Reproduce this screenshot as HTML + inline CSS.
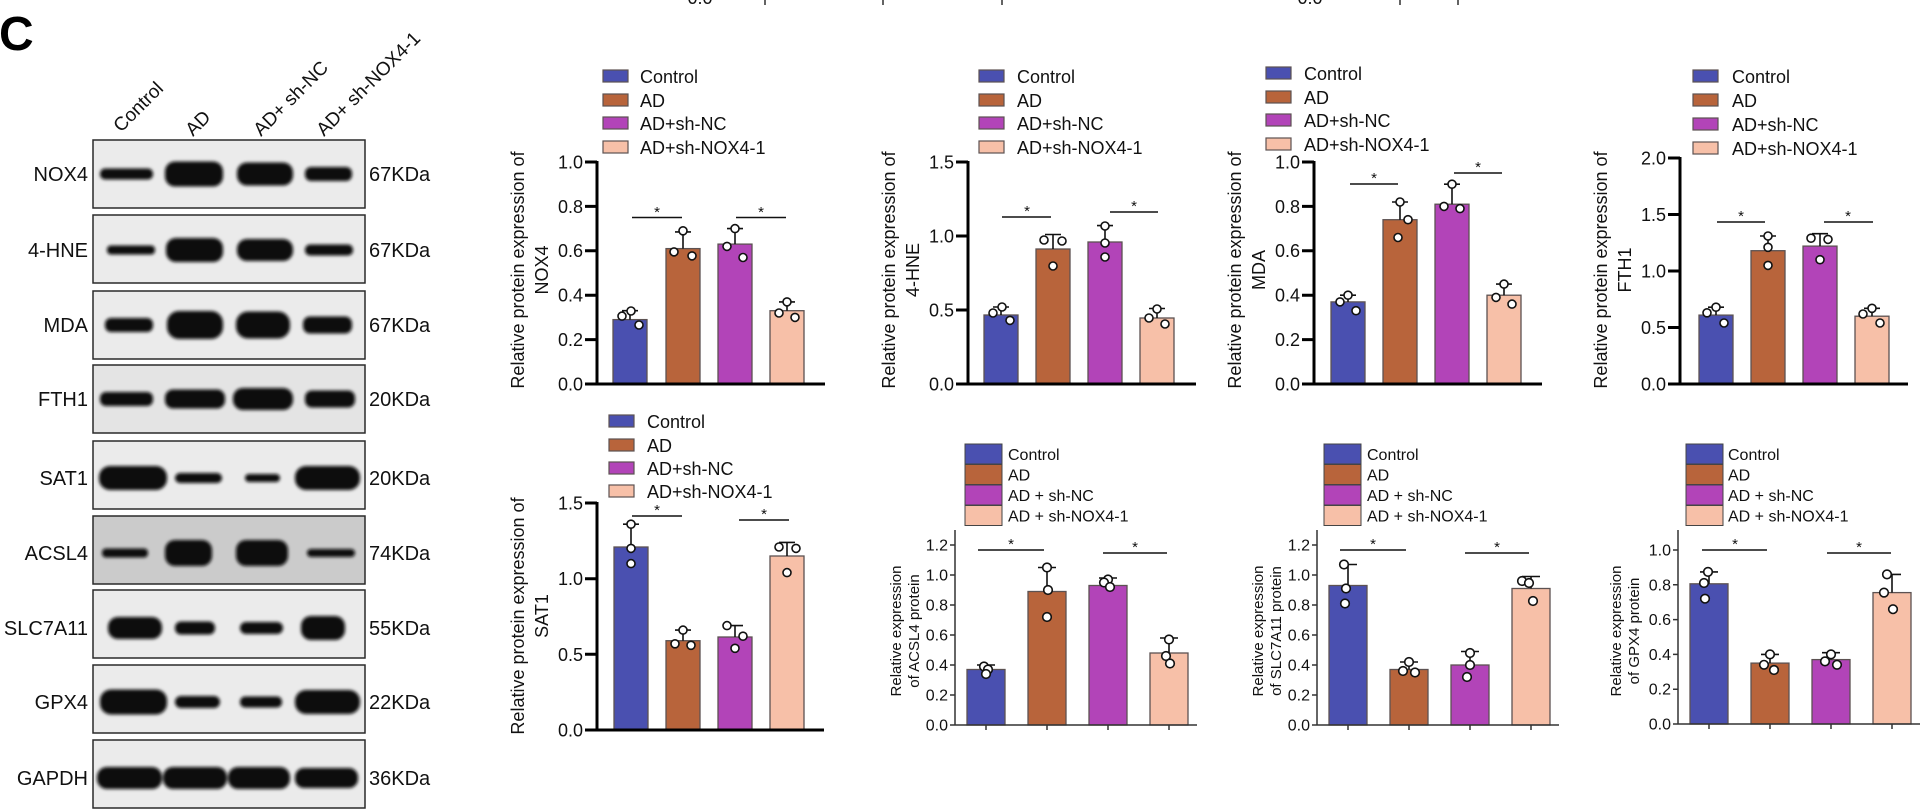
<!DOCTYPE html>
<html><head><meta charset="utf-8">
<style>
html,body{margin:0;padding:0;background:#fff;width:1923px;height:810px;overflow:hidden}
svg{display:block}
</style></head>
<body>
<svg xmlns="http://www.w3.org/2000/svg" width="1923" height="810" viewBox="0 0 1923 810" font-family="'Liberation Sans', Arial, sans-serif">
<defs>
<filter id="bl" x="-20%" y="-60%" width="140%" height="220%"><feGaussianBlur stdDeviation="1.6"/></filter>
</defs>
<style>
.c0{fill:#4a50b0}.c1{fill:#b8643b}.c2{fill:#b244b8}.c3{fill:#f7c0a8}
.bar{stroke:#5c5252;stroke-width:1.3}
.sw{stroke:#5c5252;stroke-width:1.2}
.ax{stroke:#000;stroke-width:3;fill:none}
.ax2{stroke:#333;stroke-width:1.5;fill:none}
.eb{stroke:#111;stroke-width:1.6;fill:none}
.dt{fill:#fff;stroke:#111;stroke-width:1.6}
.t18{font-size:18px;fill:#111}
.t16{font-size:16px;fill:#111}
.t15{font-size:15px;fill:#111}
.st{font-size:15px;fill:#111;text-anchor:middle}
.box{fill:#ebebeb;stroke:#2a2a2a;stroke-width:1.5}
.bd{fill:#0a0a0a}
.bl{font-size:20px;fill:#111}
</style>

<!-- top cut-off strip -->
<text x="700" y="4" class="t18" text-anchor="middle">0.0</text>
<text x="1310" y="4" class="t18" text-anchor="middle">0.0</text>
<path d="M765,0V5M883,0V5M1002,0V5M1400,0V5M1458,0V5" stroke="#111" stroke-width="1.3"/>

<!-- Panel letter -->
<text x="-1" y="50" font-size="48" font-weight="bold" fill="#000">C</text>

<!-- Column labels -->
<g font-size="19" fill="#111">
<text transform="translate(121,133) rotate(-45)">Control</text>
<text transform="translate(193,137) rotate(-45)">AD</text>
<text transform="translate(261,137) rotate(-45)">AD+ sh-NC</text>
<text transform="translate(324,137) rotate(-45)">AD+ sh-NOX4-1</text>
</g>

<!-- Blot boxes -->
<rect class="box" x="93" y="140" width="272" height="68"/>
<rect class="box" x="93" y="215" width="272" height="68"/>
<rect class="box" x="93" y="291" width="272" height="68"/>
<rect class="box" x="93" y="365" width="272" height="68" style="fill:#e4e4e4"/>
<rect class="box" x="93" y="441" width="272" height="68"/>
<rect class="box" x="93" y="516" width="272" height="68" style="fill:#cbcbcb"/>
<rect class="box" x="93" y="590" width="272" height="68"/>
<rect class="box" x="93" y="665" width="272" height="68"/>
<rect class="box" x="93" y="740" width="272" height="68"/>

<g filter="url(#bl)" class="bd">
<rect x="100" y="168.5" width="53" height="11" rx="5"/>
<rect x="165" y="161.5" width="58" height="25" rx="10"/>
<rect x="237" y="162.5" width="56" height="23" rx="10"/>
<rect x="305" y="167" width="47" height="14" rx="6"/>
<rect x="107" y="245.5" width="48" height="9" rx="4"/>
<rect x="166" y="238" width="57" height="24" rx="10"/>
<rect x="237" y="239" width="56" height="22" rx="10"/>
<rect x="305" y="244.5" width="48" height="11" rx="5"/>
<rect x="105" y="318" width="48" height="14" rx="6"/>
<rect x="167" y="311" width="56" height="28" rx="12"/>
<rect x="236" y="311.5" width="54" height="27" rx="12"/>
<rect x="303" y="316.5" width="49" height="17" rx="7"/>
<rect x="100" y="392" width="53" height="14" rx="6"/>
<rect x="165" y="389.5" width="60" height="19" rx="8"/>
<rect x="233" y="388" width="60" height="22" rx="10"/>
<rect x="305" y="390.5" width="50" height="17" rx="7"/>
<rect x="99" y="466" width="68" height="24" rx="11"/>
<rect x="175" y="473" width="47" height="10" rx="5"/>
<rect x="245" y="474" width="35" height="8" rx="4"/>
<rect x="295" y="466" width="65" height="24" rx="11"/>
<rect x="102" y="548.5" width="46" height="9" rx="4"/>
<rect x="165" y="540" width="47" height="26" rx="10"/>
<rect x="236" y="540" width="52" height="26" rx="10"/>
<rect x="307" y="549" width="48" height="8" rx="4"/>
<rect x="108" y="617" width="54" height="22" rx="10"/>
<rect x="175" y="621.5" width="40" height="13" rx="6"/>
<rect x="240" y="622" width="43" height="12" rx="6"/>
<rect x="301" y="616" width="44" height="24" rx="10"/>
<rect x="100" y="689.5" width="67" height="25" rx="11"/>
<rect x="175" y="696" width="45" height="12" rx="6"/>
<rect x="240" y="696.5" width="42" height="11" rx="5"/>
<rect x="295" y="690" width="65" height="24" rx="11"/>
<rect x="97" y="767" width="65" height="22" rx="10"/>
<rect x="163" y="767" width="64" height="22" rx="10"/>
<rect x="228" y="767" width="62" height="22" rx="10"/>
<rect x="295" y="768" width="63" height="20" rx="9"/>
</g>

<g class="bl" text-anchor="end">
<text x="88" y="181">NOX4</text>
<text x="88" y="257">4-HNE</text>
<text x="88" y="332">MDA</text>
<text x="88" y="406">FTH1</text>
<text x="88" y="485">SAT1</text>
<text x="88" y="560">ACSL4</text>
<text x="88" y="635">SLC7A11</text>
<text x="88" y="709">GPX4</text>
<text x="88" y="785">GAPDH</text>
</g>
<g class="bl">
<text x="369" y="181">67KDa</text>
<text x="369" y="257">67KDa</text>
<text x="369" y="332">67KDa</text>
<text x="369" y="406">20KDa</text>
<text x="369" y="485">20KDa</text>
<text x="369" y="560">74KDa</text>
<text x="369" y="635">55KDa</text>
<text x="369" y="709">22KDa</text>
<text x="369" y="785">36KDa</text>
</g>

<!-- ================= Chart 1 NOX4 ================= -->
<g>
<rect class="c0 sw" x="603" y="70" width="25" height="12"/><text class="t18" x="640" y="83">Control</text>
<rect class="c1 sw" x="603" y="94" width="25" height="12"/><text class="t18" x="640" y="107">AD</text>
<rect class="c2 sw" x="603" y="117" width="25" height="12"/><text class="t18" x="640" y="130">AD+sh-NC</text>
<rect class="c3 sw" x="603" y="141" width="25" height="12"/><text class="t18" x="640" y="154">AD+sh-NOX4-1</text>
<text class="t18" text-anchor="middle" transform="translate(524,270) rotate(-90)">Relative protein expression of</text>
<text class="t18" text-anchor="middle" transform="translate(548,270) rotate(-90)">NOX4</text>
<g class="t18" text-anchor="end">
<text x="583" y="390.5">0.0</text><text x="583" y="346">0.2</text><text x="583" y="301.5">0.4</text>
<text x="583" y="257">0.6</text><text x="583" y="213">0.8</text><text x="583" y="168.5">1.0</text>
</g>
<rect class="c0 bar" x="613" y="319.6" width="34" height="64.4"/>
<rect class="c1 bar" x="666" y="248.6" width="34" height="135.4"/>
<rect class="c2 bar" x="718" y="244.1" width="34" height="139.9"/>
<rect class="c3 bar" x="770" y="310.7" width="34" height="73.3"/>
<path class="eb" d="M630,319.6V310.7M622,310.7H638M683,248.6V231.9M675,231.9H691M735,244.1V228.6M727,228.6H743M787,310.7V301.9M779,301.9H795"/>
<circle class="dt" cx="622" cy="316.1" r="4"/><circle class="dt" cx="631" cy="311" r="4"/><circle class="dt" cx="639" cy="325" r="4"/>
<circle class="dt" cx="683" cy="230.8" r="4"/><circle class="dt" cx="674" cy="251.9" r="4"/><circle class="dt" cx="692" cy="255.9" r="4"/>
<circle class="dt" cx="735" cy="228.6" r="4"/><circle class="dt" cx="727" cy="246.4" r="4"/><circle class="dt" cx="743" cy="257.5" r="4"/>
<circle class="dt" cx="787" cy="301.9" r="4"/><circle class="dt" cx="779" cy="313" r="4"/><circle class="dt" cx="795" cy="317.4" r="4"/>
<path class="eb" d="M632,217.5H682M736,217.5H786"/>
<text class="st" x="657" y="217">*</text><text class="st" x="761" y="217">*</text>
<path class="ax" d="M597,161V385.5M597,384H825M585,384H597M585,339.6H597M585,295.2H597M585,250.8H597M585,206.4H597M585,162H597"/>
</g>

<!-- ================= Chart 2 4-HNE ================= -->
<g>
<rect class="c0 sw" x="979" y="70" width="25" height="12"/><text class="t18" x="1017" y="83">Control</text>
<rect class="c1 sw" x="979" y="94" width="25" height="12"/><text class="t18" x="1017" y="107">AD</text>
<rect class="c2 sw" x="979" y="117" width="25" height="12"/><text class="t18" x="1017" y="130">AD+sh-NC</text>
<rect class="c3 sw" x="979" y="141" width="25" height="12"/><text class="t18" x="1017" y="154">AD+sh-NOX4-1</text>
<text class="t18" text-anchor="middle" transform="translate(895,270) rotate(-90)">Relative protein expression of</text>
<text class="t18" text-anchor="middle" transform="translate(919,270) rotate(-90)">4-HNE</text>
<g class="t18" text-anchor="end">
<text x="954" y="390.5">0.0</text><text x="954" y="316.5">0.5</text><text x="954" y="242.5">1.0</text><text x="954" y="168.5">1.5</text>
</g>
<rect class="c0 bar" x="984" y="315" width="34" height="69"/>
<rect class="c1 bar" x="1036" y="249" width="34" height="135"/>
<rect class="c2 bar" x="1088" y="242" width="34" height="142"/>
<rect class="c3 bar" x="1140" y="318" width="34" height="66"/>
<path class="eb" d="M1001,315V307M993,307H1009M1053,249V234.5M1045,234.5H1061M1105,242V225.6M1097,225.6H1113M1157,318V308.5M1149,308.5H1165"/>
<circle class="dt" cx="993" cy="313" r="4"/><circle class="dt" cx="1002" cy="307" r="4"/><circle class="dt" cx="1010" cy="320.4" r="4"/>
<circle class="dt" cx="1044" cy="240" r="4"/><circle class="dt" cx="1062" cy="241" r="4"/><circle class="dt" cx="1053" cy="266" r="4"/>
<circle class="dt" cx="1105" cy="226" r="4"/><circle class="dt" cx="1105" cy="243" r="4"/><circle class="dt" cx="1105" cy="257" r="4"/>
<circle class="dt" cx="1149" cy="318" r="4"/><circle class="dt" cx="1157" cy="309" r="4"/><circle class="dt" cx="1165" cy="324" r="4"/>
<path class="eb" d="M1002,217H1051M1110,212H1158"/>
<text class="st" x="1027" y="216">*</text><text class="st" x="1134" y="211">*</text>
<path class="ax" d="M968,161V385.5M968,384H1196M956,384H968M956,310H968M956,236H968M956,162H968"/>
</g>

<!-- ================= Chart 3 MDA ================= -->
<g>
<rect class="c0 sw" x="1266" y="67" width="25" height="12"/><text class="t18" x="1304" y="80">Control</text>
<rect class="c1 sw" x="1266" y="91" width="25" height="12"/><text class="t18" x="1304" y="104">AD</text>
<rect class="c2 sw" x="1266" y="114" width="25" height="12"/><text class="t18" x="1304" y="127">AD+sh-NC</text>
<rect class="c3 sw" x="1266" y="138" width="25" height="12"/><text class="t18" x="1304" y="151">AD+sh-NOX4-1</text>
<text class="t18" text-anchor="middle" transform="translate(1241,270) rotate(-90)">Relative protein expression of</text>
<text class="t18" text-anchor="middle" transform="translate(1265,270) rotate(-90)">MDA</text>
<g class="t18" text-anchor="end">
<text x="1300" y="390.5">0.0</text><text x="1300" y="346">0.2</text><text x="1300" y="301.5">0.4</text>
<text x="1300" y="257">0.6</text><text x="1300" y="213">0.8</text><text x="1300" y="168.5">1.0</text>
</g>
<rect class="c0 bar" x="1331" y="301.9" width="34" height="82.1"/>
<rect class="c1 bar" x="1383" y="219.7" width="34" height="164.3"/>
<rect class="c2 bar" x="1435" y="204.2" width="34" height="179.8"/>
<rect class="c3 bar" x="1487" y="295.2" width="34" height="88.8"/>
<path class="eb" d="M1348,301.9V295.2M1340,295.2H1356M1400,219.7V202M1392,202H1408M1452,204.2V184.2M1444,184.2H1460M1504,295.2V284.1M1496,284.1H1512"/>
<circle class="dt" cx="1340" cy="301.9" r="4"/><circle class="dt" cx="1348" cy="295.2" r="4"/><circle class="dt" cx="1356" cy="310.7" r="4"/>
<circle class="dt" cx="1400" cy="202" r="4"/><circle class="dt" cx="1408" cy="219.7" r="4"/><circle class="dt" cx="1398" cy="237.5" r="4"/>
<circle class="dt" cx="1452" cy="184.2" r="4"/><circle class="dt" cx="1444" cy="206.4" r="4"/><circle class="dt" cx="1460" cy="208.6" r="4"/>
<circle class="dt" cx="1504" cy="284.1" r="4"/><circle class="dt" cx="1496" cy="297.4" r="4"/><circle class="dt" cx="1512" cy="304.1" r="4"/>
<path class="eb" d="M1350,184H1398M1454,173H1502"/>
<text class="st" x="1374" y="183">*</text><text class="st" x="1478" y="172">*</text>
<path class="ax" d="M1314,161V385.5M1314,384H1542M1302,384H1314M1302,339.6H1314M1302,295.2H1314M1302,250.8H1314M1302,206.4H1314M1302,162H1314"/>
</g>

<!-- ================= Chart 4 FTH1 ================= -->
<g>
<rect class="c0 sw" x="1693" y="70" width="25" height="12"/><text class="t18" x="1732" y="83">Control</text>
<rect class="c1 sw" x="1693" y="94" width="25" height="12"/><text class="t18" x="1732" y="107">AD</text>
<rect class="c2 sw" x="1693" y="118" width="25" height="12"/><text class="t18" x="1732" y="131">AD+sh-NC</text>
<rect class="c3 sw" x="1693" y="142" width="25" height="12"/><text class="t18" x="1732" y="155">AD+sh-NOX4-1</text>
<text class="t18" text-anchor="middle" transform="translate(1607,270) rotate(-90)">Relative protein expression of</text>
<text class="t18" text-anchor="middle" transform="translate(1631,270) rotate(-90)">FTH1</text>
<g class="t18" text-anchor="end">
<text x="1666" y="390.5">0.0</text><text x="1666" y="334">0.5</text><text x="1666" y="277.5">1.0</text>
<text x="1666" y="221">1.5</text><text x="1666" y="164.5">2.0</text>
</g>
<rect class="c0 bar" x="1699" y="315.1" width="34" height="68.9"/>
<rect class="c1 bar" x="1751" y="250.7" width="34" height="133.3"/>
<rect class="c2 bar" x="1803" y="246.1" width="34" height="137.9"/>
<rect class="c3 bar" x="1855" y="316.2" width="34" height="67.8"/>
<path class="eb" d="M1716,315.1V307.2M1708,307.2H1724M1768,250.7V236M1760,236H1776M1820,246.1V233.7M1812,233.7H1828M1872,316.2V308.3M1864,308.3H1880"/>
<circle class="dt" cx="1707" cy="312.8" r="4"/><circle class="dt" cx="1716" cy="307.2" r="4"/><circle class="dt" cx="1724" cy="323" r="4"/>
<circle class="dt" cx="1768" cy="236" r="4"/><circle class="dt" cx="1768" cy="247.3" r="4"/><circle class="dt" cx="1768" cy="265.4" r="4"/>
<circle class="dt" cx="1811" cy="238.2" r="4"/><circle class="dt" cx="1828" cy="239.4" r="4"/><circle class="dt" cx="1820" cy="259.7" r="4"/>
<circle class="dt" cx="1863" cy="314" r="4"/><circle class="dt" cx="1872" cy="308.3" r="4"/><circle class="dt" cx="1880" cy="323" r="4"/>
<path class="eb" d="M1717,222H1765M1824,222H1873"/>
<text class="st" x="1741" y="221">*</text><text class="st" x="1848" y="221">*</text>
<path class="ax" d="M1680,157V385.5M1680,384H1908M1668,384H1680M1668,327.5H1680M1668,271H1680M1668,214.5H1680M1668,158H1680"/>
</g>

<!-- ================= Chart 5 SAT1 ================= -->
<g>
<rect class="c0 sw" x="609" y="415" width="25" height="12"/><text class="t18" x="647" y="428">Control</text>
<rect class="c1 sw" x="609" y="439" width="25" height="12"/><text class="t18" x="647" y="452">AD</text>
<rect class="c2 sw" x="609" y="462" width="25" height="12"/><text class="t18" x="647" y="475">AD+sh-NC</text>
<rect class="c3 sw" x="609" y="485" width="25" height="12"/><text class="t18" x="647" y="498">AD+sh-NOX4-1</text>
<text class="t18" text-anchor="middle" transform="translate(524,616) rotate(-90)">Relative protein expression of</text>
<text class="t18" text-anchor="middle" transform="translate(548,616) rotate(-90)">SAT1</text>
<g class="t18" text-anchor="end">
<text x="583" y="736.5">0.0</text><text x="583" y="660.8">0.5</text><text x="583" y="585.2">1.0</text><text x="583" y="509.5">1.5</text>
</g>
<rect class="c0 bar" x="614" y="547" width="34" height="183"/>
<rect class="c1 bar" x="666" y="640.7" width="34" height="89.3"/>
<rect class="c2 bar" x="718" y="637" width="34" height="93"/>
<rect class="c3 bar" x="770" y="556" width="34" height="174"/>
<path class="eb" d="M631,547V524.2M623,524.2H639M683,640.7V630.1M675,630.1H691M735,637V625.6M727,625.6H743M787,556V542.4M779,542.4H795"/>
<circle class="dt" cx="631" cy="524.2" r="4"/><circle class="dt" cx="631" cy="548.4" r="4"/><circle class="dt" cx="631" cy="563.6" r="4"/>
<circle class="dt" cx="683" cy="630.1" r="4"/><circle class="dt" cx="675" cy="643.8" r="4"/><circle class="dt" cx="691" cy="645.3" r="4"/>
<circle class="dt" cx="727" cy="625.6" r="4"/><circle class="dt" cx="743" cy="636.2" r="4"/><circle class="dt" cx="735" cy="648.3" r="4"/>
<circle class="dt" cx="779" cy="547" r="4"/><circle class="dt" cx="796" cy="548.4" r="4"/><circle class="dt" cx="787" cy="572.6" r="4"/>
<path class="eb" d="M632,516H682M739,520H789"/>
<text class="st" x="657" y="515">*</text><text class="st" x="764" y="519">*</text>
<path class="ax" d="M597,502V731.5M597,730H824M585,730H597M585,654.3H597M585,578.7H597M585,503H597"/>
</g>

<!-- ================= Chart 6 ACSL4 ================= -->
<g>
<rect class="c0" x="965" y="444" width="37" height="20" stroke="#444" stroke-width="1"/><text class="t16" x="1008" y="460">Control</text>
<rect class="c1" x="965" y="464.5" width="37" height="20" stroke="#444" stroke-width="1"/><text class="t16" x="1008" y="480.5">AD</text>
<rect class="c2" x="965" y="485" width="37" height="20" stroke="#444" stroke-width="1"/><text class="t16" x="1008" y="501">AD + sh-NC</text>
<rect class="c3" x="965" y="505.5" width="37" height="20" stroke="#444" stroke-width="1"/><text class="t16" x="1008" y="521.5">AD + sh-NOX4-1</text>
<text class="t15" text-anchor="middle" transform="translate(901,631) rotate(-90)">Relative expression</text>
<text class="t15" text-anchor="middle" transform="translate(919,631) rotate(-90)">of ACSL4 protein</text>
<g class="t16" text-anchor="end">
<text x="948" y="730.5">0.0</text><text x="948" y="700.5">0.2</text><text x="948" y="670.5">0.4</text><text x="948" y="640.5">0.6</text>
<text x="948" y="610.5">0.8</text><text x="948" y="580.5">1.0</text><text x="948" y="550.5">1.2</text>
</g>
<rect class="c0 bar" x="967" y="669.5" width="38" height="55.5"/>
<rect class="c1 bar" x="1028" y="591.5" width="38" height="133.5"/>
<rect class="c2 bar" x="1089" y="585.5" width="38" height="139.5"/>
<rect class="c3 bar" x="1150" y="653" width="38" height="72"/>
<path class="eb" d="M986,669.5V665M977,665H995M1047,591.5V567.5M1038,567.5H1056M1108,585.5V578M1099,578H1117M1169,653V638M1160,638H1178"/>
<circle class="dt" cx="984" cy="666.5" r="4.3"/><circle class="dt" cx="988" cy="669.5" r="4.3"/><circle class="dt" cx="986" cy="674" r="4.3"/>
<circle class="dt" cx="1047" cy="567.5" r="4.3"/><circle class="dt" cx="1048" cy="590" r="4.3"/><circle class="dt" cx="1047" cy="617" r="4.3"/>
<circle class="dt" cx="1108" cy="579.5" r="4.3"/><circle class="dt" cx="1104" cy="582.5" r="4.3"/><circle class="dt" cx="1110" cy="587" r="4.3"/>
<circle class="dt" cx="1169" cy="639.5" r="4.3"/><circle class="dt" cx="1166" cy="656" r="4.3"/><circle class="dt" cx="1170" cy="663.5" r="4.3"/>
<path class="eb" d="M978,550H1044M1103,553H1167" stroke-width="1.3"/>
<text class="st" x="1011" y="549">*</text><text class="st" x="1135" y="552">*</text>
<path class="ax2" d="M955,530V725.5M955,725H1197M950,725H955M950,695H955M950,665H955M950,635H955M950,605H955M950,575H955M950,545H955M986,725V730M1047,725V730M1108,725V730M1169,725V730"/>
</g>

<!-- ================= Chart 7 SLC7A11 ================= -->
<g>
<rect class="c0" x="1324" y="444" width="37" height="20" stroke="#444" stroke-width="1"/><text class="t16" x="1367" y="460">Control</text>
<rect class="c1" x="1324" y="464.5" width="37" height="20" stroke="#444" stroke-width="1"/><text class="t16" x="1367" y="480.5">AD</text>
<rect class="c2" x="1324" y="485" width="37" height="20" stroke="#444" stroke-width="1"/><text class="t16" x="1367" y="501">AD + sh-NC</text>
<rect class="c3" x="1324" y="505.5" width="37" height="20" stroke="#444" stroke-width="1"/><text class="t16" x="1367" y="521.5">AD + sh-NOX4-1</text>
<text class="t15" text-anchor="middle" transform="translate(1263,631) rotate(-90)">Relative expression</text>
<text class="t15" text-anchor="middle" transform="translate(1281,631) rotate(-90)">of SLC7A11 protein</text>
<g class="t16" text-anchor="end">
<text x="1310" y="730.5">0.0</text><text x="1310" y="700.5">0.2</text><text x="1310" y="670.5">0.4</text><text x="1310" y="640.5">0.6</text>
<text x="1310" y="610.5">0.8</text><text x="1310" y="580.5">1.0</text><text x="1310" y="550.5">1.2</text>
</g>
<rect class="c0 bar" x="1329" y="585.5" width="38" height="139.5"/>
<rect class="c1 bar" x="1390" y="669.5" width="38" height="55.5"/>
<rect class="c2 bar" x="1451" y="665" width="38" height="60"/>
<rect class="c3 bar" x="1512" y="588.5" width="38" height="136.5"/>
<path class="eb" d="M1348,585.5V564.5M1339,564.5H1357M1409,669.5V662M1400,662H1418M1470,665V651.5M1461,651.5H1479M1531,588.5V576.5M1522,576.5H1540"/>
<circle class="dt" cx="1344" cy="564.5" r="4.3"/><circle class="dt" cx="1346" cy="588.5" r="4.3"/><circle class="dt" cx="1345" cy="603.5" r="4.3"/>
<circle class="dt" cx="1409" cy="662" r="4.3"/><circle class="dt" cx="1403" cy="671" r="4.3"/><circle class="dt" cx="1415" cy="672.5" r="4.3"/>
<circle class="dt" cx="1470" cy="653" r="4.3"/><circle class="dt" cx="1470" cy="665" r="4.3"/><circle class="dt" cx="1467" cy="677" r="4.3"/>
<circle class="dt" cx="1522" cy="581" r="4.3"/><circle class="dt" cx="1529" cy="583" r="4.3"/><circle class="dt" cx="1533" cy="601" r="4.3"/>
<path class="eb" d="M1340,550H1406M1465,553H1529" stroke-width="1.3"/>
<text class="st" x="1373" y="549">*</text><text class="st" x="1497" y="552">*</text>
<path class="ax2" d="M1317,530V725.5M1317,725H1559M1312,725H1317M1312,695H1317M1312,665H1317M1312,635H1317M1312,605H1317M1312,575H1317M1312,545H1317M1348,725V730M1409,725V730M1470,725V730M1531,725V730"/>
</g>

<!-- ================= Chart 8 GPX4 ================= -->
<g>
<rect class="c0" x="1686" y="444" width="37" height="20" stroke="#444" stroke-width="1"/><text class="t16" x="1728" y="460">Control</text>
<rect class="c1" x="1686" y="464.5" width="37" height="20" stroke="#444" stroke-width="1"/><text class="t16" x="1728" y="480.5">AD</text>
<rect class="c2" x="1686" y="485" width="37" height="20" stroke="#444" stroke-width="1"/><text class="t16" x="1728" y="501">AD + sh-NC</text>
<rect class="c3" x="1686" y="505.5" width="37" height="20" stroke="#444" stroke-width="1"/><text class="t16" x="1728" y="521.5">AD + sh-NOX4-1</text>
<text class="t15" text-anchor="middle" transform="translate(1621,631) rotate(-90)">Relative expression</text>
<text class="t15" text-anchor="middle" transform="translate(1639,631) rotate(-90)">of GPX4 protein</text>
<g class="t16" text-anchor="end">
<text x="1671" y="729.5">0.0</text><text x="1671" y="694.7">0.2</text><text x="1671" y="659.9">0.4</text>
<text x="1671" y="625.1">0.6</text><text x="1671" y="590.3">0.8</text><text x="1671" y="555.5">1.0</text>
</g>
<rect class="c0 bar" x="1690" y="583.8" width="38" height="140.2"/>
<rect class="c1 bar" x="1751" y="663.1" width="38" height="60.9"/>
<rect class="c2 bar" x="1812" y="659.6" width="38" height="64.4"/>
<rect class="c3 bar" x="1873" y="592.6" width="38" height="131.4"/>
<path class="eb" d="M1709,583.8V571.9M1700,571.9H1718M1770,663.1V654.4M1761,654.4H1779M1831,659.6V652.7M1822,652.7H1840M1892,592.6V574.4M1883,574.4H1901"/>
<circle class="dt" cx="1708" cy="571.9" r="4.3"/><circle class="dt" cx="1704" cy="583" r="4.3"/><circle class="dt" cx="1705" cy="598.7" r="4.3"/>
<circle class="dt" cx="1770" cy="654.4" r="4.3"/><circle class="dt" cx="1764" cy="664.8" r="4.3"/><circle class="dt" cx="1774" cy="670" r="4.3"/>
<circle class="dt" cx="1831" cy="654.4" r="4.3"/><circle class="dt" cx="1825" cy="661.4" r="4.3"/><circle class="dt" cx="1837" cy="664.8" r="4.3"/>
<circle class="dt" cx="1887" cy="574.4" r="4.3"/><circle class="dt" cx="1884" cy="592.6" r="4.3"/><circle class="dt" cx="1893" cy="609.2" r="4.3"/>
<path class="eb" d="M1702,550H1767M1827,553H1891" stroke-width="1.3"/>
<text class="st" x="1735" y="549">*</text><text class="st" x="1859" y="552">*</text>
<path class="ax2" d="M1678,530V724.5M1678,724H1920M1673,724H1678M1673,689.2H1678M1673,654.4H1678M1673,619.6H1678M1673,584.8H1678M1673,550H1678M1709,724V729M1770,724V729M1831,724V729M1892,724V729"/>
</g>
</svg>
</body></html>
